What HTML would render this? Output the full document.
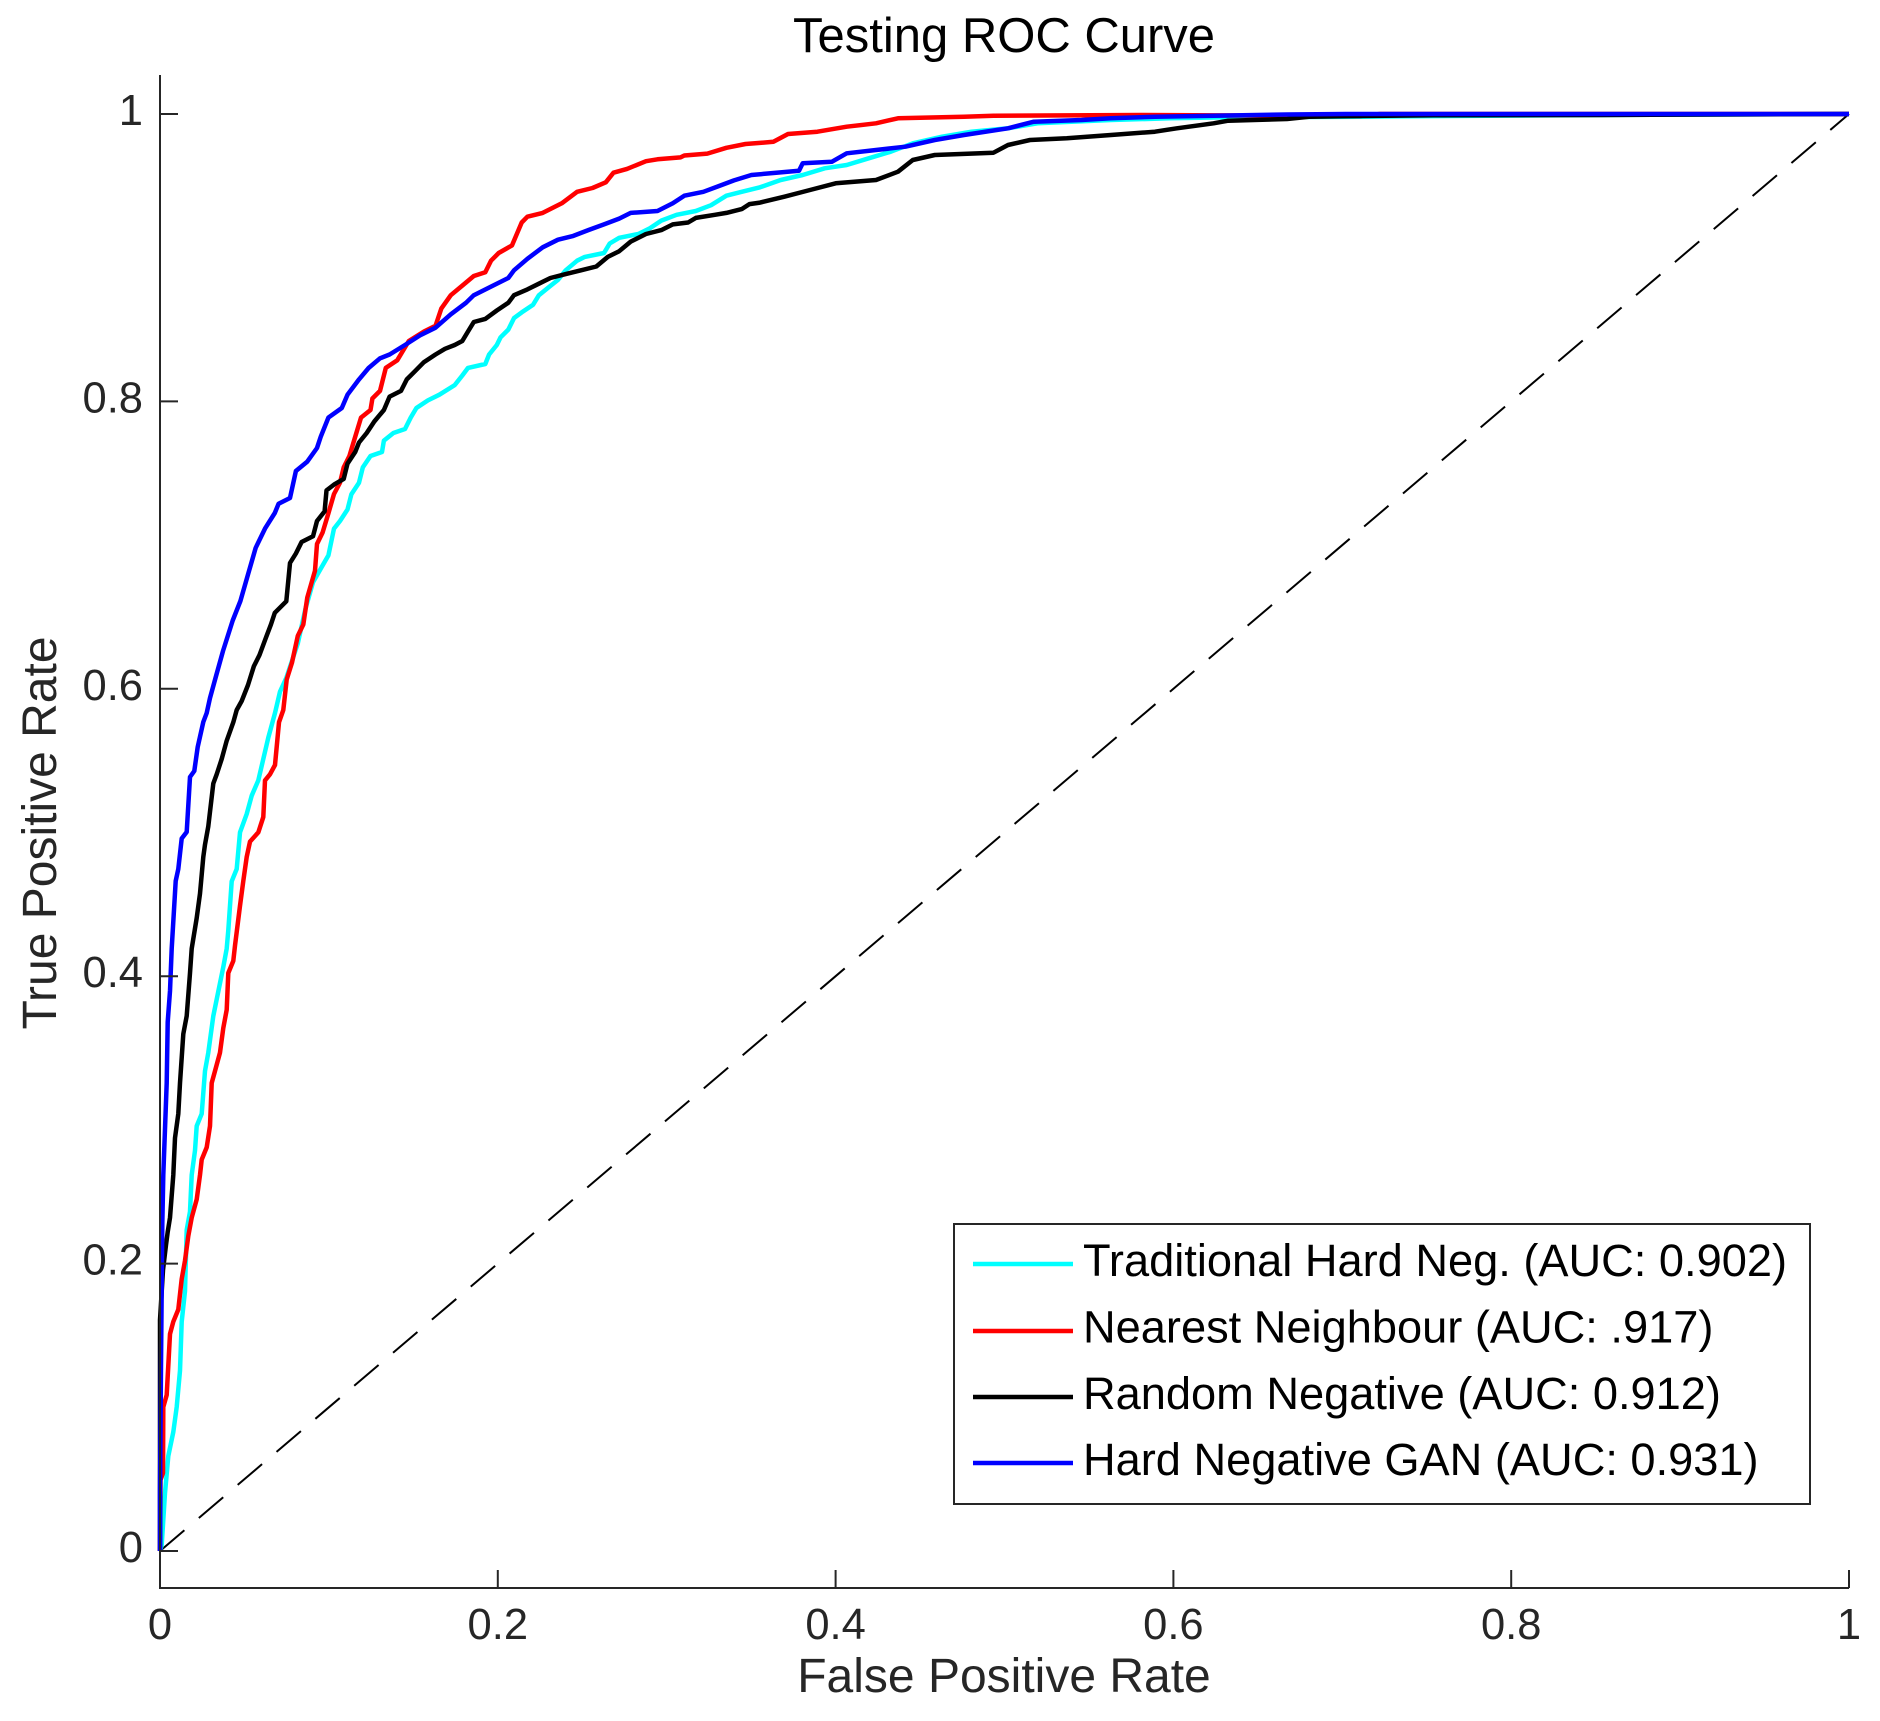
<!DOCTYPE html>
<html>
<head>
<meta charset="utf-8">
<style>
  html, body { margin:0; padding:0; background:#ffffff; }
  body { width:1880px; height:1721px; overflow:hidden; }
  svg { display:block; }
  text { font-family: "Liberation Sans", Arial, Helvetica, sans-serif; }
</style>
</head>
<body>
<svg width="1880" height="1721" viewBox="0 0 1880 1721" xmlns="http://www.w3.org/2000/svg">
  <rect x="0" y="0" width="1880" height="1721" fill="#ffffff"/>

  <!-- Title -->
  <text x="1004" y="52" font-size="49" text-anchor="middle" fill="#000000">Testing ROC Curve</text>

  <!-- diagonal dashed -->
  <line x1="160" y1="1551" x2="1849" y2="114" stroke="#000000" stroke-width="2" stroke-dasharray="32 19"/>

  <!-- Curves -->
  <g fill="none" stroke-width="4.5" stroke-linejoin="round" stroke-linecap="butt">
    <polyline stroke="#00ffff" points="160,1551 161.7,1545 165,1493 168.3,1456 173.3,1432 176.7,1407 180,1370.6 181.7,1321.7 185,1291 186.7,1230 190,1211.6 191.7,1175 195,1150.5 196.7,1126 201.7,1113.8 205,1071 208.3,1052.6 213.3,1016 218.3,991.4 223.3,967 226.7,948.6 228.3,930.3 231.7,881.3 236.7,869 240,832.4 246.7,814 251.7,795.7 258.3,780.4 263.3,759 268.3,737.6 275,713 280,691.7 286.3,677.9 297.8,643.4 305.4,609 313,582.2 320.7,568.8 328.4,555.4 334,528.6 340,521 347.5,509.5 351.4,494.2 359,482.7 362.8,467.4 370.5,456 382,452 383.9,440.6 393.4,433 405,429 410.7,417.6 416.4,408 427.9,400.4 439.4,394.7 454.7,385.1 462.3,375.5 468,367.9 485.3,364 489.1,354.5 496.8,345 500.6,337.3 508.3,329.6 514,318.1 521.7,312.4 533.1,304.7 538.9,295.2 548.4,287.5 558,279.9 565.7,270.3 577.1,260.7 584.8,256.9 604,253 609.7,243.5 619.2,237.8 638.4,234 649.9,228.2 661.3,220.6 676.6,214.8 695.8,211 711.1,205.2 726.4,195.7 741.7,191.8 760,187.3 780.7,180 802.7,175 824.7,168.3 846.7,165 868.7,158.3 890.8,151.7 912.8,143.3 942,136.7 971.5,131.7 1008,128.3 1037.5,123.3 1110.9,120 1169.5,118.3 1228.2,117.3 1360,116.7 1448.3,116 1600,115 1849,114"/>
    <polyline stroke="#ff0000" points="160,1551 160.5,1480 163,1473 163.3,1407 166.7,1395 170,1334 173.3,1321.7 178.3,1309.5 181.7,1279 185,1260.6 188.3,1236 191.7,1217.7 196.7,1199.4 200,1175 201.7,1159.6 206.7,1147.4 210,1126 211.7,1083 215,1071 220,1052.6 223.3,1028 226.7,1009.8 228.3,973 233.3,960.9 235,945.6 240,905.8 243.3,881 246.7,857 250,841.6 258.3,832.4 263.3,817 265,780.4 270,774.3 275,765 279,722.3 283.3,710 286.7,679.5 292,662.6 297.8,635.8 303.3,624.5 307.3,597.5 315,570.7 317,544 322.6,532.5 328.4,513.3 334,494 340,482.7 343.7,467.4 349.4,456 355.2,436.8 361,417.6 370.5,410 372.4,398.5 380,390.9 385.8,367.9 397.3,360.2 408.8,341 424,331.5 435.5,325.8 441.3,308.6 450.8,295.2 462.3,285.6 473.8,276 485.3,272.2 491,260.7 498.7,253 512,245.4 521.7,222.5 527.4,216.7 542.7,212.9 561.8,203.3 577.1,191.8 592.5,188 605.8,182.3 613.5,172.7 627,168.9 646,161.2 657.5,159.3 680.5,157.4 684.3,155.5 707.3,153.6 726.4,147.8 745.5,144 760,142.9 773.4,141.7 788,134 817.4,131.7 846.7,126.7 876,123.3 898,118.3 964,116.7 993.5,115.7 1140,115 1360,116 1380,114 1849,114"/>
    <polyline stroke="#000000" points="160,1551 160,1320 163,1270 166,1245 167.7,1232 170,1217.7 173.3,1175 175,1138 178.3,1113.8 180,1083 183.3,1034 186.7,1016 190,973 191.7,948.6 196.7,918 200,893.6 203.3,856.9 205,844.6 208.3,826.3 213.3,783.5 216.7,774.3 221.7,759 226.7,740.7 233.3,722.3 236.7,710 241.7,701 248,685 253.8,666.4 259.5,655 265.2,639.6 271,624.3 274.8,612.8 286.3,601.3 290,563 295.9,553.5 301.6,542 313,536.3 317,521 324.6,511.4 326.5,490.4 334,484.6 343.7,478.9 347.5,463.6 355.2,452 359,442.5 366.7,433 374.3,421.5 383.9,410 389.6,396.6 401,390.9 406.8,379.4 414.5,371.7 424,362.1 435.5,354.5 445,348.8 454.7,345 462.3,341 468,331.5 473.8,322 485.3,318.9 496.8,310.5 508.3,302.8 514,295.2 527.4,289.4 538.9,283.7 550.4,278 565.7,274.1 581,270.3 596.3,266.5 607.8,256.9 619.2,251.2 630.7,241.6 646,234 661.3,230.1 672.8,224.4 688.1,222.5 695.8,217.9 714.9,214.8 726.4,212.9 741.7,209.1 749.4,204.1 760,202.6 784.4,196.7 810,190 835.7,183.3 876,180 898,171.7 912.8,160 934.8,155 993.5,152.7 1008,145 1030,140 1066.8,138.3 1110.9,135 1154.9,131.7 1176.9,128.3 1213.6,123.3 1228.2,120.7 1287,119 1309,116.7 1360,116 1433.7,115.3 1602,115 1849,114"/>
    <polyline stroke="#0000ff" points="160,1551 160,1493 161,1364.5 162.3,1224 163.3,1175 166.7,1083 167.7,1022 170,991 171.7,948.6 175.7,881 178.3,869 181.7,838.5 186.7,832 190,777 194.3,771 197.7,747 203.3,722 206.7,713 210,698 215.5,678 223,651 232.7,620.5 240.4,601 248,574.5 255.7,547.8 265,528.6 274.8,513 278.6,503.7 290,498 295.9,471 307.3,461.6 317,448 320.7,436.8 328.4,417.6 341.8,408 347.5,394.7 359,379.4 368.6,368 380,358.3 389.6,354.5 405,345 420,335.4 435.5,327.7 450.8,314.3 466,302.8 473.8,295.2 493,285.6 508.3,278 514,270.3 527.4,258.8 542.7,247.3 558,239.7 573.3,235.9 588.6,230 604,224.4 619.2,218.6 630.7,212.9 657.5,211 672.8,203.3 684.3,195.7 703.4,191.8 718.7,186.1 734,180.4 751.4,175 799,170.7 802.7,163.3 832,161.7 846.7,153.3 876,150 905.4,146.7 934.8,140 964,135 1008,128.3 1033.8,121.7 1081.5,120 1110.9,118.3 1154.9,116.7 1213.6,115.7 1287,114.5 1345.6,114 1849,114"/>
  </g>

  <!-- Axes -->
  <g stroke="#262626" stroke-width="2" fill="none">
    <line x1="160" y1="75" x2="160" y2="1588.5"/>
    <line x1="159" y1="1588" x2="1849" y2="1588"/>
    <line x1="160" y1="114" x2="178" y2="114"/>
    <line x1="160" y1="401.4" x2="178" y2="401.4"/>
    <line x1="160" y1="688.8" x2="178" y2="688.8"/>
    <line x1="160" y1="976.2" x2="178" y2="976.2"/>
    <line x1="160" y1="1263.6" x2="178" y2="1263.6"/>
    <line x1="160" y1="1551" x2="178" y2="1551"/>
    <line x1="160" y1="1588" x2="160" y2="1570"/>
    <line x1="497.8" y1="1588" x2="497.8" y2="1570"/>
    <line x1="835.6" y1="1588" x2="835.6" y2="1570"/>
    <line x1="1173.4" y1="1588" x2="1173.4" y2="1570"/>
    <line x1="1511.2" y1="1588" x2="1511.2" y2="1570"/>
    <line x1="1849" y1="1588" x2="1849" y2="1570"/>
  </g>

  <!-- y tick labels -->
  <g font-size="43.5" fill="#262626" text-anchor="end">
    <text x="143" y="125">1</text>
    <text x="143" y="412.4">0.8</text>
    <text x="143" y="699.8">0.6</text>
    <text x="143" y="987.2">0.4</text>
    <text x="143" y="1274.6">0.2</text>
    <text x="143" y="1562">0</text>
  </g>

  <!-- x tick labels -->
  <g font-size="43.5" fill="#262626" text-anchor="middle">
    <text x="160" y="1639">0</text>
    <text x="497.8" y="1639">0.2</text>
    <text x="835.6" y="1639">0.4</text>
    <text x="1173.4" y="1639">0.6</text>
    <text x="1511.2" y="1639">0.8</text>
    <text x="1849" y="1639">1</text>
  </g>

  <!-- axis labels -->
  <text x="1004" y="1692" font-size="48" text-anchor="middle" fill="#262626">False Positive Rate</text>
  <text transform="translate(56,833) rotate(-90)" font-size="48" text-anchor="middle" fill="#262626">True Positive Rate</text>

  <!-- Legend -->
  <rect x="954" y="1224" width="856" height="280" fill="#ffffff" stroke="#262626" stroke-width="2"/>
  <g stroke-width="4.5">
    <line x1="973" y1="1264" x2="1073" y2="1264" stroke="#00ffff"/>
    <line x1="973" y1="1331" x2="1073" y2="1331" stroke="#ff0000"/>
    <line x1="973" y1="1397" x2="1073" y2="1397" stroke="#000000"/>
    <line x1="973" y1="1463" x2="1073" y2="1463" stroke="#0000ff"/>
  </g>
  <g font-size="45.2" fill="#000000">
    <text x="1083" y="1276">Traditional Hard Neg. (AUC: 0.902)</text>
    <text x="1083" y="1342.5">Nearest Neighbour (AUC: .917)</text>
    <text x="1083" y="1409">Random Negative (AUC: 0.912)</text>
    <text x="1083" y="1475">Hard Negative GAN (AUC: 0.931)</text>
  </g>
</svg>
</body>
</html>
